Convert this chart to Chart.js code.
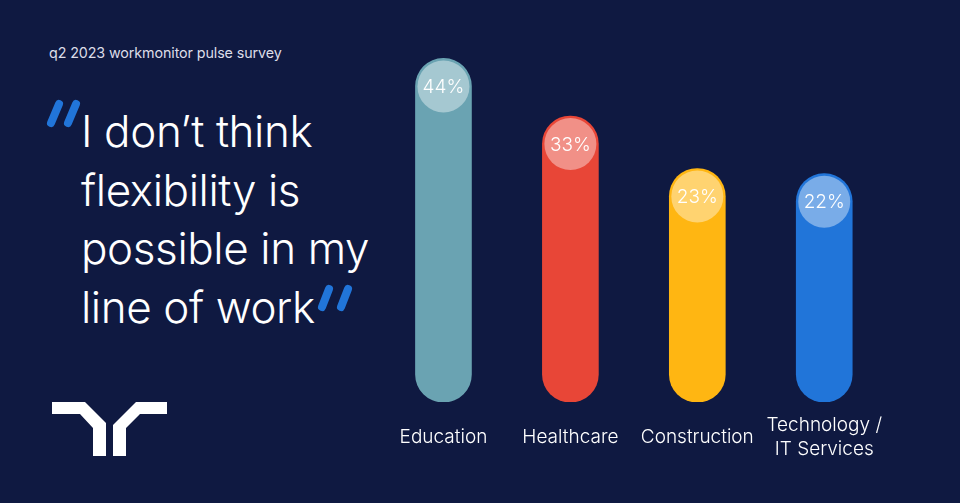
<!DOCTYPE html>
<html>
<head>
<meta charset="utf-8">
<script src="https://cdn.jsdelivr.net/npm/chart.js@4.4.0/dist/chart.umd.min.js"></script>
<style>
  html, body { margin: 0; padding: 0; }
  body { width: 960px; height: 503px; background: #0f1941; position: relative; overflow: hidden; font-family: Inter, 'Noto Sans', sans-serif; }
  #survey { position: absolute; left: 49px; top: 44px; color: #dcdde8; font-size: 14.3px; letter-spacing: -0.1px; }
  #quote { position: absolute; left: 81px; top: 102px; color: #fff; font-size: 44px; font-weight: 300; line-height: 58.5px; letter-spacing: -0.4px; white-space: nowrap; }
  #marks { position: absolute; left: 0; top: 0; }
  #logo { position: absolute; left: 0; top: 0; }
  #wrap { position: absolute; left: 380px; top: 0; width: 517px; height: 503px; }
</style>
</head>
<body>
<div id="survey">q2 2023 workmonitor pulse survey</div>
<div id="quote">I don’t think<br>flexibility is<br>possible in my<br>line of work</div>
<svg id="marks" width="400" height="340">
  <g stroke="#2175d9" stroke-width="8" stroke-linecap="round">
    <line x1="59" y1="104" x2="51" y2="123"/>
    <line x1="76" y1="104" x2="68" y2="123"/>
    <line x1="329" y1="289" x2="322" y2="307"/>
    <line x1="348" y1="289" x2="341" y2="307"/>
  </g>
</svg>
<svg id="logo" width="200" height="503">
  <g fill="#ffffff">
    <polygon points="52,402 85,402 106,423 106,456 93,456 93,428 80,414 52,414"/>
    <polygon points="113,456 113,425 136,402 167,402 167,414 140,414 126,428 126,456"/>
  </g>
</svg>
<div id="wrap"><canvas id="chart"></canvas></div>
<script>
const categories = ['Education', 'Healthcare', 'Construction', ['Technology /', 'IT Services']];
const values = [44, 33, 23, 22];
const barColors = ['#6aa3b2', '#e84637', '#ffb612', '#2175d9'];

const yMin = -21.6;
const yMax = 50;

// lighter circle with the percentage at the top of every bar
const topBubbles = {
  id: 'topBubbles',
  afterDatasetsDraw(chart) {
    const ctx = chart.ctx;
    const meta = chart.getDatasetMeta(0);
    ctx.save();
    meta.data.forEach((bar, i) => {
      const r = bar.width / 2 - 2;
      const cx = bar.x;
      const cy = bar.y + bar.width / 2;
      ctx.beginPath();
      ctx.arc(cx, cy, r, 0, Math.PI * 2);
      ctx.fillStyle = 'rgba(255,255,255,0.4)';
      ctx.fill();
      ctx.fillStyle = '#ffffff';
      ctx.font = '300 19px Inter, sans-serif';
      ctx.textAlign = 'center';
      ctx.textBaseline = 'middle';
      ctx.fillText(values[i] + '%', cx, cy + 1);
    });
    ctx.restore();
  }
};

const ctx = document.getElementById('chart').getContext('2d');
const chart = new Chart(ctx, {
  type: 'bar',
  data: {
    labels: categories,
    datasets: [{
      data: values,
      backgroundColor: barColors,
      base: yMin,
      barThickness: 56,
      borderRadius: 28,
      borderSkipped: false
    }]
  },
  options: {
    responsive: true,
    maintainAspectRatio: false,
    animation: false,
    layout: { padding: { top: 27, bottom: 15, left: 0, right: 0 } },
    plugins: { legend: { display: false }, tooltip: { enabled: false } },
    scales: {
      x: {
        grid: { display: false },
        border: { display: false },
        ticks: {
          color: '#ffffff',
          padding: 15,
          crossAlign: 'center',
          maxRotation: 0,
          autoSkip: false,
          font: { family: 'Inter, sans-serif', size: 19, weight: 300, lineHeight: 1.26 }
        }
      },
      y: {
        display: false,
        min: yMin,
        max: yMax
      }
    }
  },
  plugins: [topBubbles]
});
</script>
</body>
</html>
